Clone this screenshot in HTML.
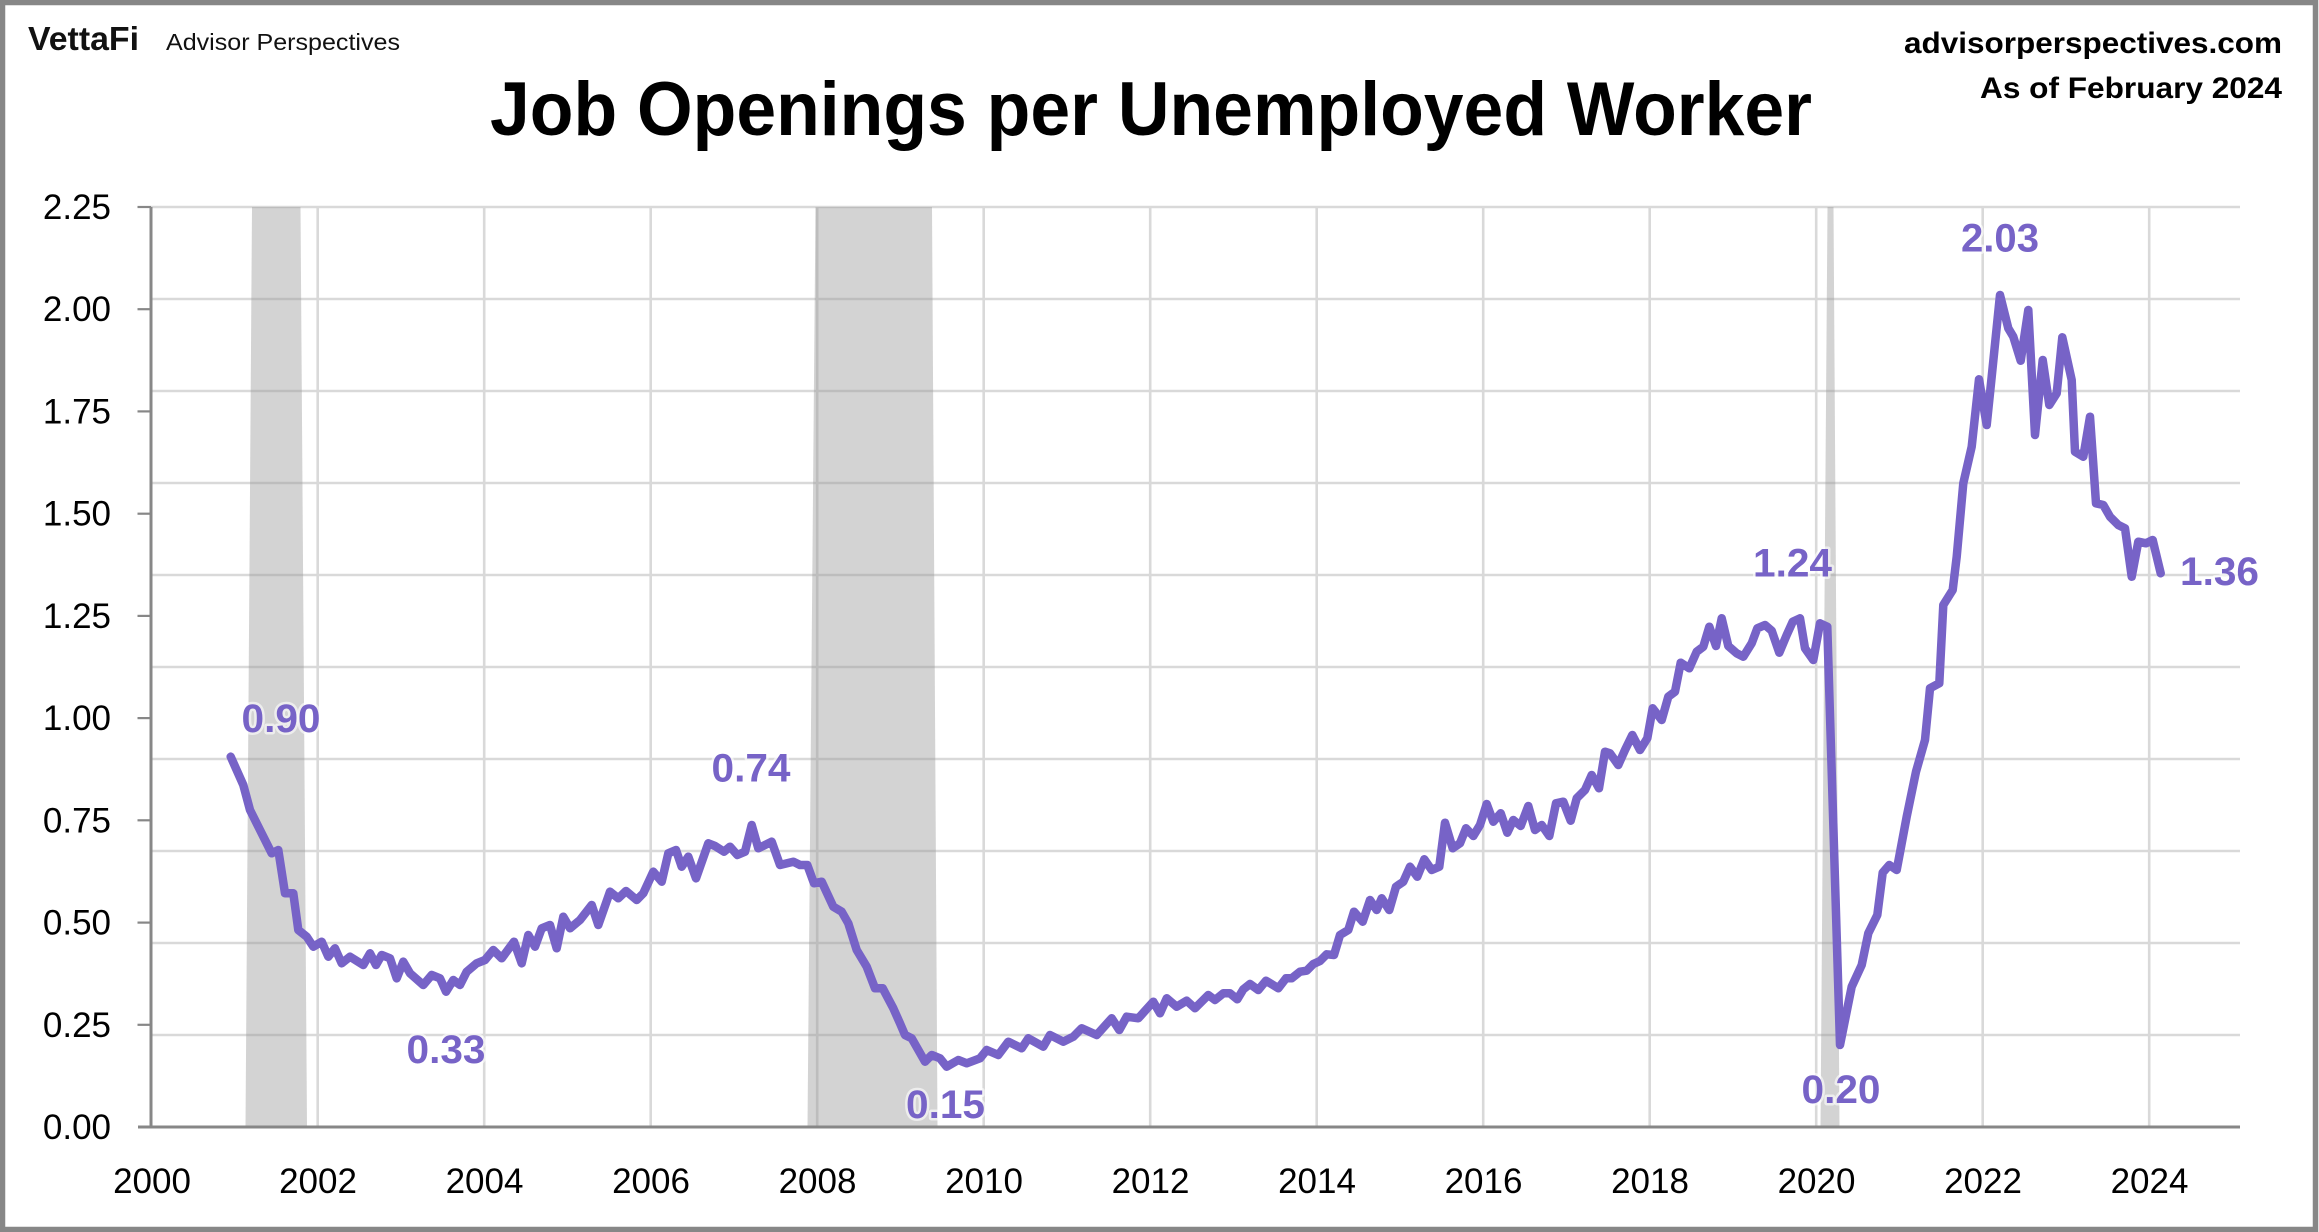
<!DOCTYPE html>
<html>
<head>
<meta charset="utf-8">
<style>
html,body{margin:0;padding:0;background:#fff;}
svg{display:block;}
text{font-family:"Liberation Sans",Arial,sans-serif;}
</style>
</head>
<body>
<svg width="2319" height="1232" viewBox="0 0 2319 1232" xmlns="http://www.w3.org/2000/svg">
<rect x="0" y="0" width="2319" height="1232" fill="#ffffff"/>
<rect x="2.5" y="2.5" width="2313" height="1227" fill="none" stroke="#878787" stroke-width="5.5"/>

<!-- header -->
<text x="28" y="50" font-size="33" font-weight="bold" fill="#111" textLength="111" lengthAdjust="spacingAndGlyphs">VettaFi</text>
<text x="166" y="50" font-size="23.5" fill="#111" textLength="234" lengthAdjust="spacingAndGlyphs">Advisor Perspectives</text>
<text x="490" y="135" font-size="76" font-weight="bold" fill="#000" textLength="1322" lengthAdjust="spacingAndGlyphs">Job Openings per Unemployed Worker</text>
<text x="2282" y="53" font-size="30" font-weight="bold" fill="#000" text-anchor="end" textLength="378" lengthAdjust="spacingAndGlyphs">advisorperspectives.com</text>
<text x="2282" y="98" font-size="30" font-weight="bold" fill="#000" text-anchor="end" textLength="302" lengthAdjust="spacingAndGlyphs">As of February 2024</text>

<!-- gridlines -->
<g stroke="#d9d9d9" stroke-width="2.6" fill="none">
<line x1="151" y1="207" x2="2240" y2="207"/>
<line x1="151" y1="299" x2="2240" y2="299"/>
<line x1="151" y1="391" x2="2240" y2="391"/>
<line x1="151" y1="483" x2="2240" y2="483"/>
<line x1="151" y1="575" x2="2240" y2="575"/>
<line x1="151" y1="667" x2="2240" y2="667"/>
<line x1="151" y1="759" x2="2240" y2="759"/>
<line x1="151" y1="851" x2="2240" y2="851"/>
<line x1="151" y1="943" x2="2240" y2="943"/>
<line x1="151" y1="1035" x2="2240" y2="1035"/>
<line x1="317.7" y1="207" x2="317.7" y2="1127"/>
<line x1="484.2" y1="207" x2="484.2" y2="1127"/>
<line x1="650.7" y1="207" x2="650.7" y2="1127"/>
<line x1="817.2" y1="207" x2="817.2" y2="1127"/>
<line x1="983.7" y1="207" x2="983.7" y2="1127"/>
<line x1="1150.2" y1="207" x2="1150.2" y2="1127"/>
<line x1="1316.7" y1="207" x2="1316.7" y2="1127"/>
<line x1="1483.2" y1="207" x2="1483.2" y2="1127"/>
<line x1="1649.7" y1="207" x2="1649.7" y2="1127"/>
<line x1="1816.2" y1="207" x2="1816.2" y2="1127"/>
<line x1="1982.7" y1="207" x2="1982.7" y2="1127"/>
<line x1="2149.2" y1="207" x2="2149.2" y2="1127"/>
</g>

<!-- recession bars -->
<g fill="rgb(150,150,150)" fill-opacity="0.42">
<polygon points="252,207 300.5,207 307,1127 245.5,1127"/>
<polygon points="815.5,207 932,207 937.5,1127 807.5,1127"/>
<polygon points="1827.5,207 1833.5,207 1839.5,1127 1820.5,1127"/>
</g>

<!-- axes -->
<g stroke="#878787" fill="none">
<line x1="151" y1="207" x2="151" y2="1128" stroke-width="3"/>
<line x1="138" y1="1127" x2="2240" y2="1127" stroke-width="3"/>
<g stroke-width="2.2">
<line x1="137.5" y1="207" x2="151" y2="207"/>
<line x1="137.5" y1="309.2" x2="151" y2="309.2"/>
<line x1="137.5" y1="411.4" x2="151" y2="411.4"/>
<line x1="137.5" y1="513.7" x2="151" y2="513.7"/>
<line x1="137.5" y1="615.9" x2="151" y2="615.9"/>
<line x1="137.5" y1="718.1" x2="151" y2="718.1"/>
<line x1="137.5" y1="820.3" x2="151" y2="820.3"/>
<line x1="137.5" y1="922.6" x2="151" y2="922.6"/>
<line x1="137.5" y1="1024.8" x2="151" y2="1024.8"/>
</g>
</g>

<!-- y labels -->
<g font-size="35" fill="#000" text-anchor="end">
<text x="111" y="219">2.25</text>
<text x="111" y="321.2">2.00</text>
<text x="111" y="423.4">1.75</text>
<text x="111" y="525.7">1.50</text>
<text x="111" y="627.9">1.25</text>
<text x="111" y="730.1">1.00</text>
<text x="111" y="832.3">0.75</text>
<text x="111" y="934.6">0.50</text>
<text x="111" y="1036.8">0.25</text>
<text x="111" y="1139">0.00</text>
</g>

<!-- x labels -->
<g font-size="35" fill="#000" text-anchor="middle">
<text x="152" y="1193">2000</text>
<text x="318" y="1193">2002</text>
<text x="484.5" y="1193">2004</text>
<text x="651" y="1193">2006</text>
<text x="817.5" y="1193">2008</text>
<text x="984" y="1193">2010</text>
<text x="1150.5" y="1193">2012</text>
<text x="1317" y="1193">2014</text>
<text x="1483.5" y="1193">2016</text>
<text x="1650" y="1193">2018</text>
<text x="1816.5" y="1193">2020</text>
<text x="1983" y="1193">2022</text>
<text x="2149.5" y="1193">2024</text>
</g>

<!-- data line -->
<polyline fill="none" stroke="#7763C7" stroke-width="8.5" stroke-linejoin="round" stroke-linecap="round" points="
230.7,756.7 243.3,785 250,810 260,830 271.7,853.3 278.3,850 285,893.3 293.3,893.3 298.3,930 306.7,936.7
313.3,946.7 321.7,941.7 328.3,956.7 335,948.3 341.7,963.3 350,956.7 363.3,965 370,953.3 376,965 381.7,955
390,958.3 396.7,978.3 403.3,961.7 410,973.3 423.3,985 431.7,975 440,978.3 446,991.7 453.3,980 460,985
466.7,971.7 476.7,963.3 485,960 493.3,950 501.7,958.3 514,941.7 521.7,963.3 528.3,935 535,946.7 541.7,928.3
550,925 556.7,948.3 563.3,916.7 570,928.3 580,920 591.7,905 598.3,925 610,891.7 618.3,898.3 626,891
636.7,900 643.3,893.3 653.3,871.7 661.7,881.7 668.3,853.3 676,850 681.7,866.7 688.3,856.7 696,878.3 708.3,843.3
715,846 724,851.7 730,846.7 737.3,855 745,851.7 751.7,825 758.3,848.3 771.7,841.7 780,865 793.3,861.7
800,865 807.3,865 814,883.3 821.7,881.7 833.3,906.7 841.7,911.7 848.3,923.3 856.7,950 866.7,966.7 875,988.3
882.7,988.3 893.3,1008.3 900,1023.3 905,1035 911.7,1038.3 925,1061.7 931.7,1055 940,1058.3 946.7,1066.7 958.3,1060
966.7,1063.3 980,1058.3 986.7,1050 998.3,1055 1008.3,1041.7 1021.7,1048.3 1028.3,1038.3 1043.3,1046.7 1050,1035 1063.3,1041.7
1073.3,1036.7 1081.7,1028.3 1096.7,1035 1111.7,1018.3 1119.3,1030 1126.7,1016.7 1138.3,1018.3 1153.3,1001.7 1160,1013.3 1166.7,998.3
1176.7,1006.7 1186.7,1000.7 1195,1008.3 1208.3,995 1215,1000 1223.3,993.3 1230,993.3 1237.3,999.3 1243.3,989.3 1250,984
1258.3,990 1266,980.7 1278.3,988.3 1286,978.3 1291.7,978.3 1300,971.7 1306.7,970.7 1313.3,964 1320,961 1326.7,954.3
1334,955 1340,935 1348.3,930 1354,911.7 1362.7,921.7 1370,900 1376.7,910 1381.7,898.3 1389.3,910 1396,886.7
1403.3,881.7 1410,866.7 1417.3,876.7 1424.3,859.3 1431.7,870 1439.3,866.7 1445,822.7 1452.7,848.3 1460,843.3 1466,828.3
1473.3,836 1480,825 1486.7,804 1493.3,821.7 1500.7,813.3 1507.3,832.7 1513.3,820 1520.7,826 1528.3,806 1535,830
1541.7,825 1549.3,836 1556,803.3 1563.3,801.7 1570.7,820.7 1576.7,798.3 1585,790 1591.7,775 1599,788.3 1605,751.7
1610,753.3 1618.3,765 1625,750 1632.3,735 1640,750 1647.3,738.3 1652.7,708.3 1661.7,720 1668.3,696.7 1675,691.7
1680.7,662.7 1689.3,668.3 1696.7,651.7 1703.3,646.7 1709.3,626.7 1716,646 1721.7,618.3 1728.3,646 1736.7,653.3 1743.3,656.7
1751.7,643.3 1757.3,628.3 1765,625 1771.7,630.7 1779.3,652.7 1786.7,635 1792.7,621.7 1800,618.3 1805,648.3 1813.3,660
1820,623.3 1827.3,626.7 1840,1045 1851.7,986.7 1861.7,965 1868.3,933.3 1877.3,915 1882.7,872.7 1889.3,865 1896.7,870
1906.7,816.7 1916,771.7 1925,740 1930,688.3 1939.3,683.3 1943.3,605 1952.7,590 1956.7,556.7 1963.3,483.3 1971.7,446.7
1979,379.3 1986.7,425 1991.7,376.7 2000,295 2008.3,328.3 2013.3,336.7 2020.7,360.7 2028.3,310 2035,435 2042.7,360
2049.3,405 2056.7,393.3 2062.3,337.3 2071.7,380 2075,451.7 2083.3,456.7 2090,416.7 2096,503.3 2103.3,505 2110,516.7
2118.3,525 2125,528.3 2131.7,576.7 2138.3,541.7 2146,543.3 2152.7,540 2160.7,573.3"/>

<!-- data labels -->
<g font-size="40" font-weight="bold" fill="#7763C7" stroke="#ffffff" stroke-width="5" stroke-opacity="0.6" paint-order="stroke" stroke-linejoin="round">
<text x="241.5" y="732" textLength="79" lengthAdjust="spacingAndGlyphs">0.90</text>
<text x="406.5" y="1063" textLength="79" lengthAdjust="spacingAndGlyphs">0.33</text>
<text x="711.5" y="781.5" textLength="79" lengthAdjust="spacingAndGlyphs">0.74</text>
<text x="906" y="1118" textLength="79" lengthAdjust="spacingAndGlyphs">0.15</text>
<text x="1753" y="576.5" textLength="79" lengthAdjust="spacingAndGlyphs">1.24</text>
<text x="1801.5" y="1103" textLength="79" lengthAdjust="spacingAndGlyphs">0.20</text>
<text x="1961" y="251.5" textLength="78" lengthAdjust="spacingAndGlyphs">2.03</text>
<text x="2180" y="585" textLength="79" lengthAdjust="spacingAndGlyphs">1.36</text>
</g>
</svg>
</body>
</html>
